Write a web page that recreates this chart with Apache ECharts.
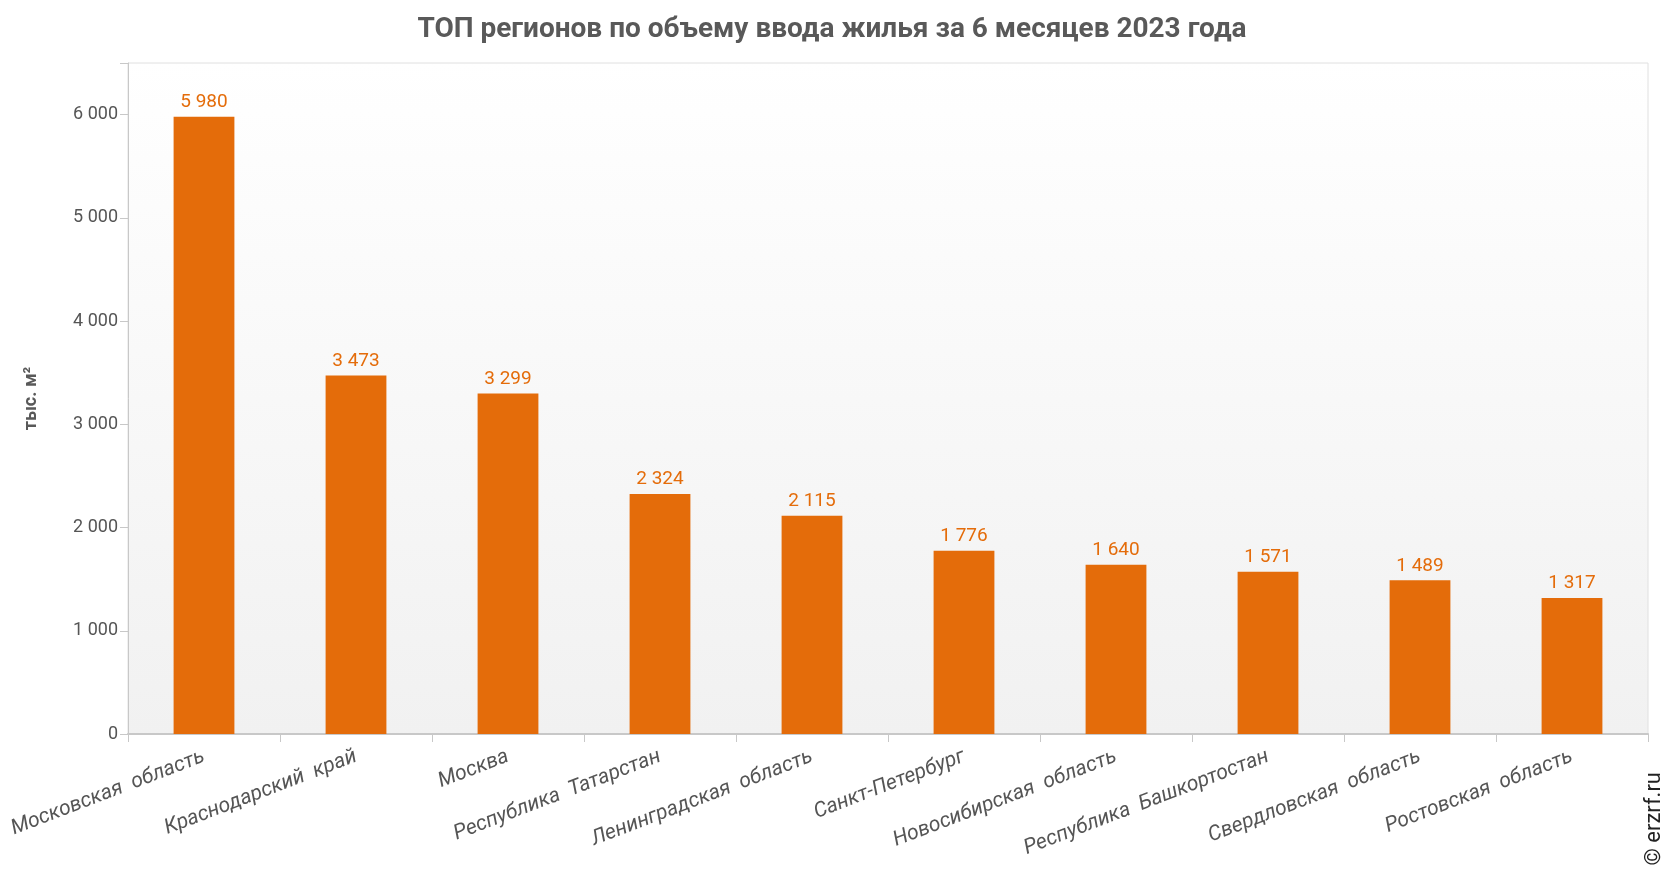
<!DOCTYPE html>
<html>
<head>
<meta charset="utf-8">
<script src="https://cdn.jsdelivr.net/npm/echarts@6/dist/echarts.min.js"></script>
<style>
html,body{margin:0;padding:0;background:#fff;}
#chart{width:1664px;height:875px;}
</style>
</head>
<body>
<div id="chart"></div>
<script>
const titleText = 'ТОП регионов по объему ввода жилья за 6 месяцев 2023 года';
const categories = ['Московская  область','Краснодарский  край','Москва','Республика  Татарстан','Ленинградская  область','Санкт-Петербург','Новосибирская  область','Республика  Башкортостан','Свердловская  область','Ростовская  область'];
const values = [5980, 3473, 3299, 2324, 2115, 1776, 1640, 1571, 1489, 1317];
const yAxisName = 'тыс. м²';
const copyright = '© erzrf.ru';

function fmt(v){ return String(v).replace(/\B(?=(\d{3})+(?!\d))/g, ' '); }

const chart = echarts.init(document.getElementById('chart'));
chart.setOption({
  backgroundColor: '#ffffff',
  textStyle: { fontFamily: 'Roboto' },
  title: {
    text: titleText, left: 'center', top: 11,
    textStyle: { fontFamily: 'Roboto', fontSize: 28, fontWeight: 'bold', color: '#595959' }
  },
  grid: {
    left: 128, right: 16, top: 63, bottom: 141,
    show: true, borderColor: '#e0e0e0', borderWidth: 1,
    backgroundColor: new echarts.graphic.LinearGradient(0,0,0,1,[{offset:0,color:'#ffffff'},{offset:1,color:'#f1f1f1'}])
  },
  xAxis: {
    type: 'category', data: categories,
    axisLine: { lineStyle: { color: '#c8c8c8', width: 2 } },
    axisTick: { show: true, length: 8, lineStyle: { color: '#c8c8c8' } },
    axisLabel: { rotate: 21, margin: 22, fontSize: 21, fontStyle: 'italic', color: '#555555', interval: 0 }
  },
  yAxis: {
    type: 'value', min: 0, max: 6500, interval: 1000,
    name: yAxisName, nameLocation: 'middle', nameGap: 88, nameRotate: 90,
    nameTextStyle: { fontSize: 18, fontWeight: 'bold', color: '#595959' },
    axisLine: { show: true, lineStyle: { color: '#c8c8c8', width: 1 } },
    axisTick: { show: true, length: 8, lineStyle: { color: '#c8c8c8' } },
    splitLine: { show: false },
    axisLabel: { fontSize: 18, color: '#555555', margin: 10, formatter: v => v > 6000 ? '' : fmt(v) }
  },
  series: [{
    type: 'bar', data: values, barWidth: '40%',
    itemStyle: { color: '#e46c0a' },
    label: { show: true, position: 'top', distance: 5, fontSize: 19, color: '#e46c0a', formatter: p => fmt(p.value) }
  }],
  graphic: [{
    type: 'text', left: 1643, top: 772, rotation: Math.PI/2,
    style: { text: copyright, fontFamily: 'Roboto', fontSize: 22, fill: '#222' }
  }]
});
</script>
</body>
</html>
